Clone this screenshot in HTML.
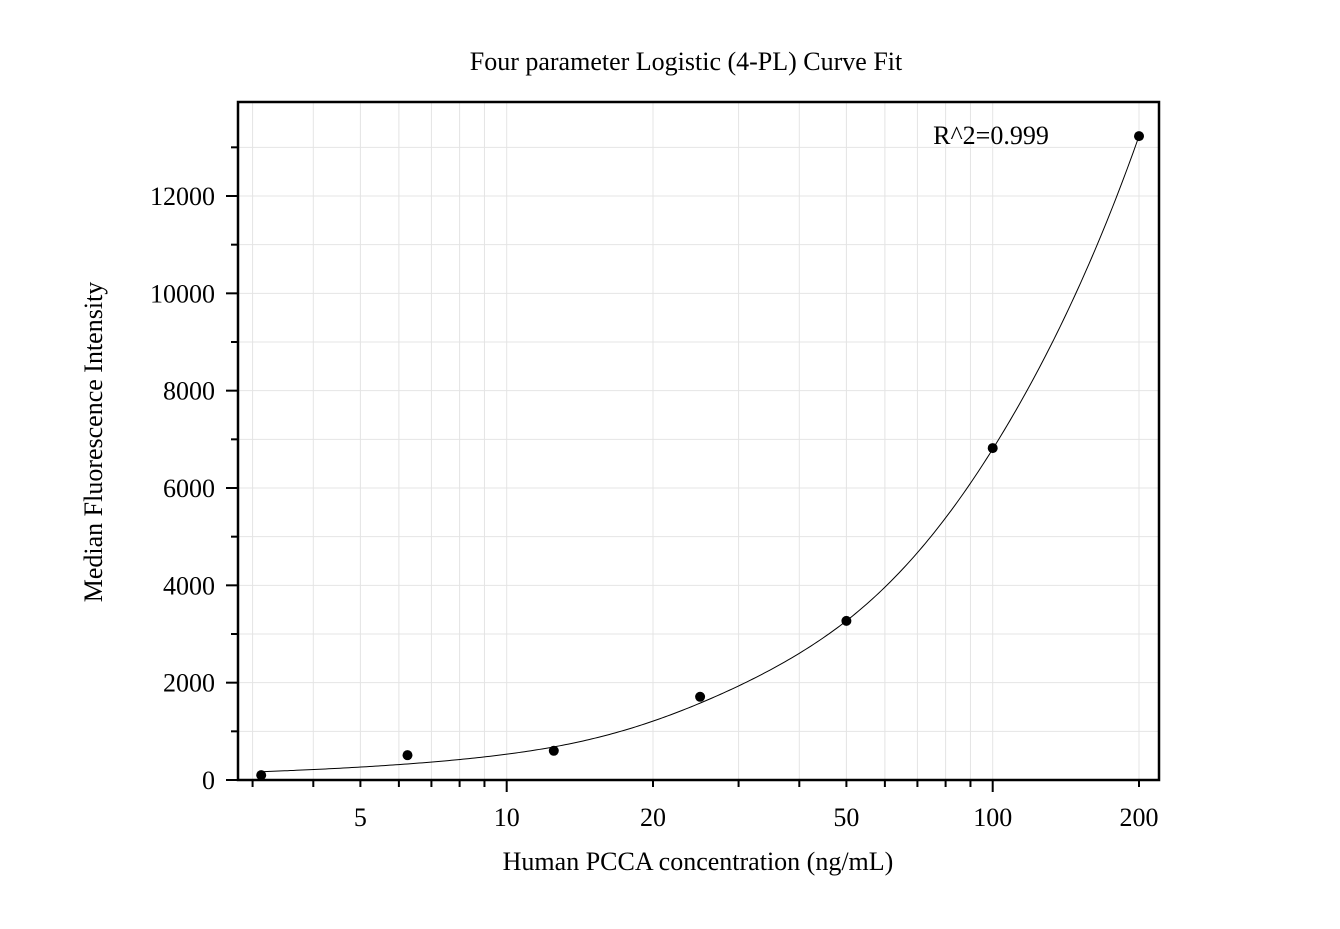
<!DOCTYPE html>
<html><head><meta charset="utf-8"><style>
html,body{margin:0;padding:0;background:#fff;}
svg{display:block;font-family:"Liberation Serif",serif;}
</style></head><body>
<svg id="s" width="1340" height="929" xmlns="http://www.w3.org/2000/svg">
<rect width="1340" height="929" fill="#fff"/>
<g id="grid" stroke="#e4e4e4" stroke-width="1"></g>
<g id="ticks" stroke="#000" stroke-width="2"></g>
<path id="curve" fill="none" stroke="#000" stroke-width="1"/>
<g id="pts" fill="#000"></g>
<rect x="238" y="102" width="921" height="678" fill="none" stroke="#000" stroke-width="2.5"/>
<text x="686" y="70" font-size="26" text-anchor="middle">Four parameter Logistic (4-PL) Curve Fit</text>
<text x="991" y="144" font-size="26" text-anchor="middle">R^2=0.999</text>
<text x="698" y="870" font-size="26" text-anchor="middle">Human PCCA concentration (ng/mL)</text>
<text transform="translate(102,442) rotate(-90)" font-size="26" text-anchor="middle">Median Fluorescence Intensity</text>
<g id="lab" font-size="26"></g>
</svg>
<script>
const NS="http://www.w3.org/2000/svg";
function el(p,t,a,txt){const e=document.createElementNS(NS,t);for(const k in a)e.setAttribute(k,a[k]);if(txt!=null)e.textContent=txt;document.getElementById(p).appendChild(e);}
const X=v=>1139-(Math.log10(200)-Math.log10(v))*486;
const Y=v=>780-v*(584/12000);
const xs=[3,4,5,6,7,8,9,10,20,30,40,50,60,70,80,90,100,200];
xs.forEach(v=>{const x=X(v);el("grid","line",{x1:x,x2:x,y1:102,y2:780});
 const major=[10,100].includes(v);el("ticks","line",{x1:x,x2:x,y1:780,y2:major?792:787});});
[5,10,20,50,100,200].forEach(v=>el("lab","text",{x:X(v),y:826,"text-anchor":"middle"},String(v)));
for(let v=0;v<=13000;v+=1000){const y=Y(v);if(v>0)el("grid","line",{x1:238,x2:1159,y1:y,y2:y});
 const major=v%2000==0;el("ticks","line",{x1:238,x2:major?226:231,y1:y,y2:y});
 if(major)el("lab","text",{x:215,y:y+9,"text-anchor":"end"},String(v));}
[[3.125,100],[6.25,510],[12.5,600],[25,1710],[50,3270],[100,6820],[200,13230]].forEach(p=>el("pts","circle",{cx:X(p[0]),cy:Y(p[1]),r:5}));
const kx=[3.125,6.25,12.5,25,50,100,200].map(Math.log10);
const ky=[170,330,680,1580,3270,6800,13230].map(Math.log);
const n=kx.length,h=[],al=[0],l=[1],mu=[0],z=[0],c=new Array(n).fill(0),b=[],d=[];
for(let i=0;i<n-1;i++)h[i]=kx[i+1]-kx[i];
for(let i=1;i<n-1;i++)al[i]=3/h[i]*(ky[i+1]-ky[i])-3/h[i-1]*(ky[i]-ky[i-1]);
for(let i=1;i<n-1;i++){l[i]=2*(kx[i+1]-kx[i-1])-h[i-1]*mu[i-1];mu[i]=h[i]/l[i];z[i]=(al[i]-h[i-1]*z[i-1])/l[i];}
for(let j=n-2;j>=0;j--){c[j]=z[j]-mu[j]*c[j+1];b[j]=(ky[j+1]-ky[j])/h[j]-h[j]*(c[j+1]+2*c[j])/3;d[j]=(c[j+1]-c[j])/(3*h[j]);}
function f(t){let i=0;while(i<n-2&&t>kx[i+1])i++;const dx=t-kx[i];return Math.exp(ky[i]+b[i]*dx+c[i]*dx*dx+d[i]*dx*dx*dx);}
let p="";for(let s=0;s<=300;s++){const t=kx[0]+(kx[n-1]-kx[0])*s/300;const v=Math.pow(10,t);p+=(s?"L":"M")+X(v).toFixed(2)+","+Y(f(t)).toFixed(2);}
document.getElementById("curve").setAttribute("d",p);
</script>
</body></html>
